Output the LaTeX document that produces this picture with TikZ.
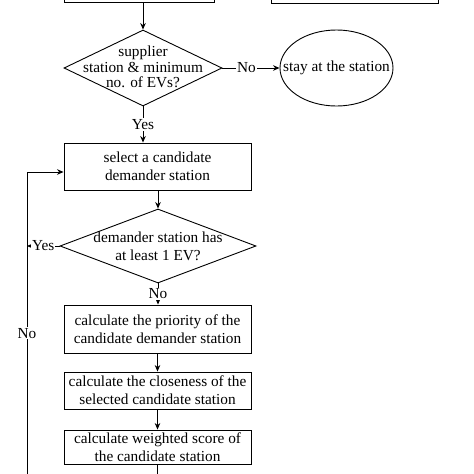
\documentclass[tikz,border=0pt]{standalone}
\usepackage{fontspec}
\setmainfont{Liberation Serif}
\usetikzlibrary{shapes.geometric,arrows.meta}
\begin{document}
\begin{tikzpicture}[x=1pt,y=-1pt,
  every node/.style={font=\fontsize{15.3}{18}\selectfont},
  line/.style={draw, line width=0.9pt},
  arr/.style={line, -{Stealth[length=6.5pt,width=5.5pt]}},
  box/.style={draw, line width=0.9pt, rectangle, inner sep=0pt, align=center},
  dia/.style={draw, line width=0.9pt, diamond, inner sep=0pt},
  ell/.style={draw, line width=0.9pt, ellipse, inner sep=0pt},
  lab/.style={fill=white, inner sep=1pt}
]
\useasboundingbox (0,0) rectangle (474,474);
\fill[white] (0,0) rectangle (474,474);
\begin{scope}
\clip (0,0) rectangle (474,474);
% partial boxes at top
\node[box, minimum width=150, minimum height=45] (topL) at (139,-20) {};
\node[box, minimum width=167, minimum height=46] (topR) at (354.5,-20) {};
% decision 1
\node[dia, minimum width=158, minimum height=76,
  label={[align=center, font=\fontsize{15.3}{15.5}\selectfont, yshift=1pt]center:supplier\\station \& minimum\\no. of EVs?}] (d1) at (143,68) {};
\node[ell, minimum width=113, minimum height=76,
  label={center:stay at the station}] (stay) at (336.5,68) {};
% select
\node[box, minimum width=187, minimum height=47] (sel) at (157.5,166.5) {select a candidate\\demander station};
% decision 2
\node[dia, minimum width=196, minimum height=74,
  label={[align=center]center:demander station has\\at least 1 EV?}] (d2) at (158,246) {};
% process boxes
\node[box, minimum width=187, minimum height=48] (prio) at (157.5,329) {calculate the priority of the\\candidate demander station};
\node[box, minimum width=187, minimum height=37] (close) at (157.5,390.5) {calculate the closeness of the\\selected candidate station};
\node[box, minimum width=187, minimum height=34] (score) at (157.5,447) {calculate weighted score of\\the candidate station};
% coordinates
\coordinate (yesend) at (27,246);
\coordinate (loopbot) at (27,480);
\coordinate (looptop) at (27,172);
\coordinate (down) at (157.5,480);
% connectors
\draw[arr] (d1.north |- topL.south) -- (d1.north);
\draw[arr] (d1.east) -- node[lab, pos=0.42] (no1) {No} (stay.west);
\draw[arr] (d1.south) -- node[lab] (yes1) {Yes} (d1.south |- sel.north);
\draw[arr] (sel.south -| d2.north) -- (d2.north);
\draw[arr] (d2.west) -- node[lab] (yes2) {Yes} (yesend);
\draw[arr] (d2.south) -- node[lab] (no2) {No} (d2.south |- prio.north);
\draw[arr] (prio) -- (close);
\draw[arr] (close) -- (score);
\draw[line] (score.south) -- (down);
\draw[arr] (loopbot) -- node[lab, pos=0.477] (no3) {No} (looptop) -- (looptop -| sel.west);
\end{scope}
\end{tikzpicture}
\end{document}
